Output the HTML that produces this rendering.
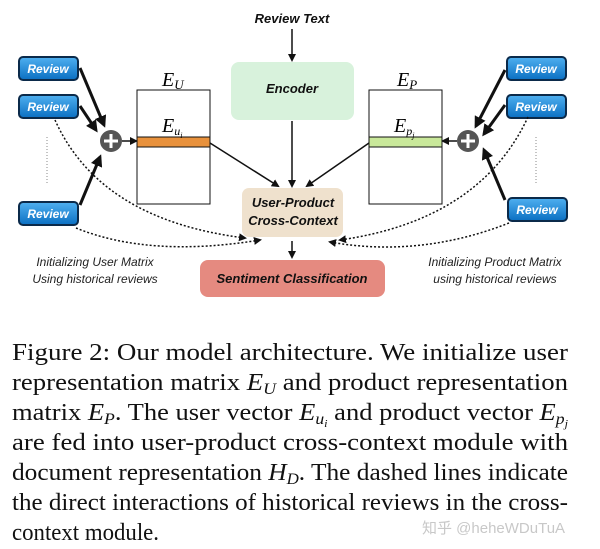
<!DOCTYPE html>
<html><head><meta charset="utf-8"><style>
html,body{margin:0;padding:0;background:#fff;}
svg{display:block;}
.rv{font-family:"Liberation Sans",sans-serif;font-weight:bold;font-style:italic;font-size:12px;fill:#fff;}
.lb{font-family:"Liberation Sans",sans-serif;font-weight:bold;font-style:italic;font-size:13px;fill:#111;}
.it{font-family:"Liberation Sans",sans-serif;font-style:italic;font-size:12px;fill:#222;}
.m{font-family:"Liberation Serif",serif;font-style:italic;}
.cap{font-family:"Liberation Serif",serif;font-size:24px;fill:#111;}
</style></head><body>
<svg width="600" height="549" viewBox="0 0 600 549" xmlns="http://www.w3.org/2000/svg">
<defs>
<linearGradient id="g" x1="0" y1="0" x2="0" y2="1"><stop offset="0" stop-color="#4fb0f0"/><stop offset="1" stop-color="#0a6fc2"/></linearGradient>
<marker id="a" markerWidth="8" markerHeight="8" refX="6" refY="4" orient="auto" markerUnits="userSpaceOnUse"><path d="M0,0 L8,4 L0,8 z" fill="#111"/></marker>
<marker id="b" markerWidth="12" markerHeight="12" refX="9" refY="6" orient="auto" markerUnits="userSpaceOnUse"><path d="M0,0 L12,6 L0,12 z" fill="#111"/></marker>
</defs>
<g>
<rect x="19" y="57" width="59" height="23" rx="4" fill="url(#g)" stroke="#0b2a4a" stroke-width="2"/><text class="rv" x="48" y="73" text-anchor="middle">Review</text>
<rect x="19" y="95" width="59" height="23" rx="4" fill="url(#g)" stroke="#0b2a4a" stroke-width="2"/><text class="rv" x="48" y="111" text-anchor="middle">Review</text>
<rect x="19" y="202" width="59" height="23" rx="4" fill="url(#g)" stroke="#0b2a4a" stroke-width="2"/><text class="rv" x="48" y="218" text-anchor="middle">Review</text>
<rect x="507" y="57" width="59" height="23" rx="4" fill="url(#g)" stroke="#0b2a4a" stroke-width="2"/><text class="rv" x="536" y="73" text-anchor="middle">Review</text>
<rect x="507" y="95" width="59" height="23" rx="4" fill="url(#g)" stroke="#0b2a4a" stroke-width="2"/><text class="rv" x="536" y="111" text-anchor="middle">Review</text>
<rect x="508" y="198" width="59" height="23" rx="4" fill="url(#g)" stroke="#0b2a4a" stroke-width="2"/><text class="rv" x="537" y="214" text-anchor="middle">Review</text>
</g>
<line x1="47" y1="137" x2="47" y2="183" stroke="#888" stroke-dasharray="1,2"/>
<line x1="536" y1="137" x2="536" y2="183" stroke="#888" stroke-dasharray="1,2"/>
<g stroke="#111" stroke-width="3" fill="none">
<line x1="80" y1="68" x2="104" y2="125" marker-end="url(#b)"/>
<line x1="80" y1="106" x2="96" y2="130" marker-end="url(#b)"/>
<line x1="80" y1="205" x2="100" y2="157" marker-end="url(#b)"/>
<line x1="505" y1="70" x2="476" y2="126" marker-end="url(#b)"/>
<line x1="505" y1="105" x2="484" y2="134" marker-end="url(#b)"/>
<line x1="505" y1="200" x2="484" y2="150" marker-end="url(#b)"/>
</g>
<circle cx="111" cy="141" r="11" fill="#555"/><path d="M104,141h14M111,134v14" stroke="#fff" stroke-width="3"/>
<circle cx="468" cy="141" r="11" fill="#555"/><path d="M461,141h14M468,134v14" stroke="#fff" stroke-width="3"/>
<line x1="122" y1="141" x2="136" y2="141" stroke="#111" stroke-width="1.5" marker-end="url(#a)"/>
<line x1="457" y1="141" x2="443" y2="141" stroke="#111" stroke-width="1.5" marker-end="url(#a)"/>
<rect x="137" y="90" width="73" height="114" fill="#fff" stroke="#111" stroke-width="1"/>
<rect x="137" y="137" width="73" height="10" fill="#e8913c" stroke="#111" stroke-width="1"/>
<rect x="369" y="90" width="73" height="114" fill="#fff" stroke="#111" stroke-width="1"/>
<rect x="369" y="137" width="73" height="10" fill="#c9e89a" stroke="#111" stroke-width="1"/>
<text class="m" x="162" y="86" font-size="20">E<tspan font-size="13" dy="3">U</tspan></text>
<text class="m" x="162" y="132" font-size="20">E<tspan font-size="12" dy="3">u</tspan><tspan font-size="8" dy="3">i</tspan></text>
<text class="m" x="397" y="86" font-size="20">E<tspan font-size="13" dy="3">P</tspan></text>
<text class="m" x="394" y="132" font-size="20">E<tspan font-size="12" dy="3">p</tspan><tspan font-size="8" dy="3">j</tspan></text>
<text class="lb" x="292" y="23" text-anchor="middle">Review Text</text>
<line x1="292" y1="29" x2="292" y2="60" stroke="#111" stroke-width="1.5" marker-end="url(#a)"/>
<rect x="231" y="62" width="123" height="58" rx="8" fill="#d8f2dc"/>
<text class="lb" x="292" y="93" text-anchor="middle">Encoder</text>
<line x1="292" y1="121" x2="292" y2="186" stroke="#111" stroke-width="1.5" marker-end="url(#a)"/>
<line x1="210" y1="143" x2="278" y2="186" stroke="#111" stroke-width="1.5" marker-end="url(#a)"/>
<line x1="369" y1="143" x2="307" y2="186" stroke="#111" stroke-width="1.5" marker-end="url(#a)"/>
<rect x="242" y="188" width="101" height="49" rx="7" fill="#efe1cd"/>
<text class="lb" x="293" y="207" text-anchor="middle" font-size="12">User-Product</text>
<text class="lb" x="293" y="225" text-anchor="middle" font-size="12">Cross-Context</text>
<line x1="292" y1="241" x2="292" y2="257" stroke="#111" stroke-width="1.5" marker-end="url(#a)"/>
<rect x="200" y="260" width="185" height="37" rx="8" fill="#e58a80"/>
<text class="lb" x="292" y="283" text-anchor="middle" font-size="13">Sentiment Classification</text>
<g stroke="#111" stroke-width="1.5" fill="none" stroke-dasharray="2,2">
<path d="M55,120 Q100,220 245,238" marker-end="url(#a)"/>
<path d="M76,228 Q150,258 260,240" marker-end="url(#a)"/>
<path d="M528,117 Q480,220 340,240" marker-end="url(#a)"/>
<path d="M509,223 Q420,258 330,242" marker-end="url(#a)"/>
</g>
<text class="it" x="95" y="266" text-anchor="middle">Initializing User Matrix</text>
<text class="it" x="95" y="283" text-anchor="middle">Using historical reviews</text>
<text class="it" x="495" y="266" text-anchor="middle">Initializing Product Matrix</text>
<text class="it" x="495" y="283" text-anchor="middle">using historical reviews</text>
<text class="cap" x="12" y="360" textLength="556" lengthAdjust="spacingAndGlyphs">Figure 2: Our model architecture. We initialize user</text>
<text class="cap" x="12" y="390" textLength="556" lengthAdjust="spacingAndGlyphs">representation matrix <tspan class="m">E</tspan><tspan class="m" font-size="16" dy="4">U</tspan><tspan dy="-4"> and product representation</tspan></text>
<text class="cap" x="12" y="420" textLength="556" lengthAdjust="spacingAndGlyphs">matrix <tspan class="m">E</tspan><tspan class="m" font-size="16" dy="4">P</tspan><tspan dy="-4">. The user vector </tspan><tspan class="m">E</tspan><tspan class="m" font-size="16" dy="4">u</tspan><tspan class="m" font-size="11" dy="3">i</tspan><tspan dy="-7"> and product vector </tspan><tspan class="m">E</tspan><tspan class="m" font-size="16" dy="4">p</tspan><tspan class="m" font-size="11" dy="3">j</tspan></text>
<text class="cap" x="12" y="450" textLength="556" lengthAdjust="spacingAndGlyphs">are fed into user-product cross-context module with</text>
<text class="cap" x="12" y="480" textLength="556" lengthAdjust="spacingAndGlyphs">document representation <tspan class="m">H</tspan><tspan class="m" font-size="16" dy="4">D</tspan><tspan dy="-4">. The dashed lines indicate</tspan></text>
<text class="cap" x="12" y="510" textLength="556" lengthAdjust="spacingAndGlyphs">the direct interactions of historical reviews in the cross-</text>
<text class="cap" x="12" y="540" textLength="147" lengthAdjust="spacingAndGlyphs">context module.</text>
<text x="422" y="533" font-family="'Liberation Sans','Noto Sans CJK SC',sans-serif" font-size="15" fill="#c8c8c8">知乎 @heheWDuTuA</text>
</svg>
</body></html>
